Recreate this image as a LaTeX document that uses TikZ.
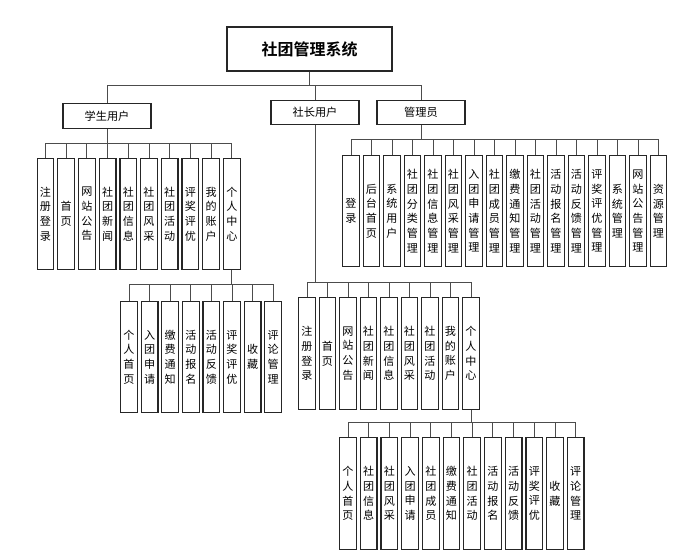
\documentclass[tikz,border=0pt]{standalone}
\usepackage{fontspec}
\setmainfont{Noto Sans CJK SC}[BoldFont={Noto Sans CJK SC Bold}]
\tikzset{
  topbox/.style={draw=black!85, line width=0.9pt, inner sep=0pt, minimum width=123.75pt, minimum height=33pt, font=\fontsize{12}{14}\selectfont\bfseries},
  rolebox/.style={draw=black!85, line width=0.9pt, inner sep=0pt, minimum width=66pt, minimum height=18.5pt, font=\fontsize{8.4}{10}\selectfont},
  leafbox/.style={draw=black!85, line width=0.9pt, inner sep=0pt, minimum width=12.5pt, minimum height=83.5pt, align=center, font=\fontsize{8.3}{11}\selectfont},
  link/.style={draw=black!70, line width=0.75pt},
}
\begin{document}
\begin{tikzpicture}[x=0.75pt, y=-0.75pt]
  \useasboundingbox (0,0) rectangle (674,556);
  % 顶层
  \node[topbox] (sys) at (309.5,49) {社团管理系统};
  \node[rolebox] (stu) at (107,116) {学生用户};
  \node[rolebox] (pres) at (315,112.5) {社长用户};
  \node[rolebox] (adm) at (421,112.5) {管理员};
  \foreach \r in {stu,pres,adm}
    \draw[link] (sys.south) -- ++(0,14) -| (\r.north);
  % 学生用户
  \foreach \t [count=\i] in {注\\册\\登\\录, 首\\页, 网\\站\\公\\告, 社\\团\\新\\闻, 社\\团\\信\\息,
      社\\团\\风\\采, 社\\团\\活\\动, 评\\奖\\评\\优, 我\\的\\账\\户, 个\\人\\中\\心}
    \node[leafbox] (s\i) at (45.5+20.7*\i-20.7,214) {\t};
  \foreach \i in {1,...,10}
    \draw[link] (s\i.north) -- ++(0,-14) -| (stu.south);
  \foreach \t [count=\i] in {个\\人\\首\\页, 入\\团\\申\\请, 缴\\费\\通\\知, 活\\动\\报\\名,
      活\\动\\反\\馈, 评\\奖\\评\\优, 收\\藏, 评\\论\\管\\理}
    \node[leafbox] (sp\i) at (129+20.6*\i-20.6,357) {\t};
  \foreach \i in {1,...,8}
    \draw[link] (sp\i.north) -- ++(0,-16) -| (s10.south);
  % 管理员
  \foreach \t [count=\i] in {登\\录, 后\\台\\首\\页, 系\\统\\用\\户, 社\\团\\分\\类\\管\\理,
      社\\团\\信\\息\\管\\理, 社\\团\\风\\采\\管\\理, 入\\团\\申\\请\\管\\理, 社\\团\\成\\员\\管\\理,
      缴\\费\\通\\知\\管\\理, 社\\团\\活\\动\\管\\理, 活\\动\\报\\名\\管\\理, 活\\动\\反\\馈\\管\\理,
      评\\奖\\评\\优\\管\\理, 系\\统\\管\\理, 网\\站\\公\\告\\管\\理, 资\\源\\管\\理}
    \node[leafbox] (a\i) at (351+20.5*\i-20.5,211) {\t};
  \foreach \i in {1,...,16}
    \draw[link] (a\i.north) -- ++(0,-15) -| (adm.south);
  % 社长用户
  \foreach \t [count=\i] in {注\\册\\登\\录, 首\\页, 网\\站\\公\\告, 社\\团\\新\\闻, 社\\团\\信\\息,
      社\\团\\风\\采, 社\\团\\活\\动, 我\\的\\账\\户, 个\\人\\中\\心}
    \node[leafbox] (p\i) at (307+20.5*\i-20.5,353.5) {\t};
  \foreach \i in {1,...,9}
    \draw[link] (p\i.north) -- ++(0,-15) -| (pres.south);
  \foreach \t [count=\i] in {个\\人\\首\\页, 社\\团\\信\\息, 社\\团\\风\\采, 入\\团\\申\\请,
      社\\团\\成\\员, 缴\\费\\通\\知, 社\\团\\活\\动, 活\\动\\报\\名, 活\\动\\反\\馈,
      评\\奖\\评\\优, 收\\藏, 评\\论\\管\\理}
    \node[leafbox] (pp\i) at (348+20.7*\i-20.7,493.5) {\t};
  \foreach \i in {1,...,12}
    \draw[link] (pp\i.north) -- ++(0,-15) -| (p9.south);
\end{tikzpicture}
\end{document}
